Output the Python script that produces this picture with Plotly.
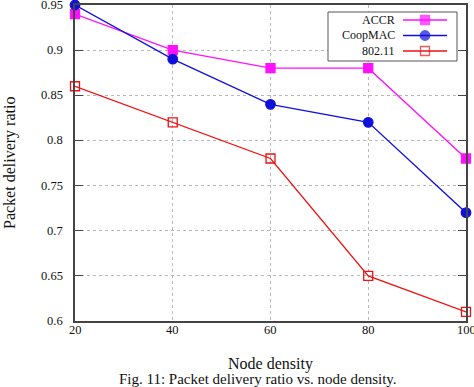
import plotly.graph_objects as go

node_density = [20, 40, 60, 80, 100]
accr = [0.94, 0.90, 0.88, 0.88, 0.78]
coopmac = [0.95, 0.89, 0.84, 0.82, 0.72]
dot11 = [0.86, 0.82, 0.78, 0.65, 0.61]
x_tick_labels = ["20", "40", "60", "80", "100"]
y_ticks = [0.6, 0.65, 0.7, 0.75, 0.8, 0.85, 0.9, 0.95]
y_tick_labels = ["0.6", "0.65", "0.7", "0.75", "0.8", "0.85", "0.9", "0.95"]
series_names = ["ACCR", "CoopMAC", "802.11"]

W, H = 474, 387
L, R, T, B = 75, 8, 5, 66
pw, ph = W - L - R, H - T - B

def px(x):
    return (x - L) / pw

def py(y):
    return 1 - (y - T) / ph

FONT = "Times New Roman, Liberation Serif, serif"
colors = ["#ff10ff", "#1010dd", "#ee1111"]
symbols = ["square", "circle", "square-open"]
sizes = [9, 9.5, 9]

fig = go.Figure()
for name, vals, c, s, sz in zip(series_names, [accr, coopmac, dot11], colors, symbols, sizes):
    fig.add_trace(go.Scatter(
        x=node_density, y=vals, mode="lines+markers", name=name,
        line=dict(color=c, width=1.3),
        marker=dict(symbol=s, size=sz, color=c, line=dict(color=c, width=1.3)),
        cliponaxis=False, showlegend=False,
    ))

# custom legend on an overlay axis (0..1 paper-like)
bx0, bx1 = px(328), px(457)
by0, by1 = py(61), py(12)
fig.add_trace(go.Scatter(
    x=[bx0, bx1, bx1, bx0, bx0], y=[by0, by0, by1, by1, by0],
    xaxis="x2", yaxis="y2", mode="lines", fill="toself", fillcolor="white",
    line=dict(color="#555", width=1), showlegend=False, hoverinfo="skip",
))
rows = [20, 35.5, 51]
sx0, sx1 = px(403), px(447)
for name, c, s, sz, ry in zip(series_names, colors, symbols, sizes, rows):
    yy = py(ry)
    fig.add_trace(go.Scatter(
        x=[sx0, (sx0 + sx1) / 2, sx1], y=[yy, yy, yy], xaxis="x2", yaxis="y2",
        mode="lines+markers", line=dict(color=c, width=1.3),
        marker=dict(symbol=s, size=[0, sz, 0], color=c, line=dict(color=c, width=1.3)),
        showlegend=False, hoverinfo="skip", cliponaxis=False,
    ))
    fig.add_annotation(x=px(397), y=yy, xref="paper", yref="paper", text=name,
                       showarrow=False, xanchor="right", yanchor="middle",
                       font=dict(family=FONT, size=12, color="#111"))

# tick labels as serif text anchored to the axis values
for v, lab in zip(node_density, x_tick_labels):
    fig.add_annotation(x=v, xref="x", y=py(329.5), yref="paper", text=lab,
                       showarrow=False, xanchor="center", yanchor="middle",
                       font=dict(family=FONT, size=12.5, color="#111"))
for v, lab in zip(y_ticks, y_tick_labels):
    fig.add_annotation(x=px(65), xref="paper", y=v, yref="y", text=lab,
                       showarrow=False, xanchor="right", yanchor="middle",
                       font=dict(family=FONT, size=12.5, color="#111"))

fig.add_annotation(x=px(10), y=0.5, xref="paper", yref="paper", text="Packet delivery ratio",
                   textangle=-90, showarrow=False, xanchor="center", yanchor="middle",
                   font=dict(family=FONT, size=16, color="#111"))
fig.add_annotation(x=0.5, y=py(364), xref="paper", yref="paper", text="Node density",
                   showarrow=False, xanchor="center", yanchor="middle",
                   font=dict(family=FONT, size=16, color="#111"))
fig.add_annotation(x=px(258), y=py(378.5), xref="paper", yref="paper",
                   text="Fig. 11: Packet delivery ratio vs. node density.",
                   showarrow=False, xanchor="center", yanchor="middle",
                   font=dict(family=FONT, size=15, color="#111"))

fig.update_layout(
    width=W, height=H, autosize=False,
    margin=dict(l=L, r=R, t=T, b=B, autoexpand=False),
    paper_bgcolor="white", plot_bgcolor="white",
    font=dict(family=FONT, size=12, color="#111"),
    xaxis=dict(range=[19.999, 100.001], tickvals=node_density, ticks="inside", ticklen=0,
               showticklabels=False,
               showline=True, linecolor="#444", linewidth=1.5, mirror=True,
               showgrid=True, gridcolor="#b8b8b8", griddash="dot", gridwidth=1,
               zeroline=False, automargin=False),
    yaxis=dict(range=[0.59999, 0.95001], tickvals=y_ticks,
               showticklabels=False,
               ticks="inside", ticklen=8, tickcolor="#444", tickwidth=1.3,
               showline=True, linecolor="#444", linewidth=1.5, mirror="allticks",
               showgrid=True, gridcolor="#b8b8b8", griddash="dot", gridwidth=1,
               zeroline=False, automargin=False),
    xaxis2=dict(overlaying="x", range=[0, 1], visible=False, domain=[0, 1]),
    yaxis2=dict(overlaying="y", range=[0, 1], visible=False, domain=[0, 1]),
    showlegend=False,
)

fig.write_html("out.html", config={"displayModeBar": False},
               post_script="document.body.style.margin='0';")
